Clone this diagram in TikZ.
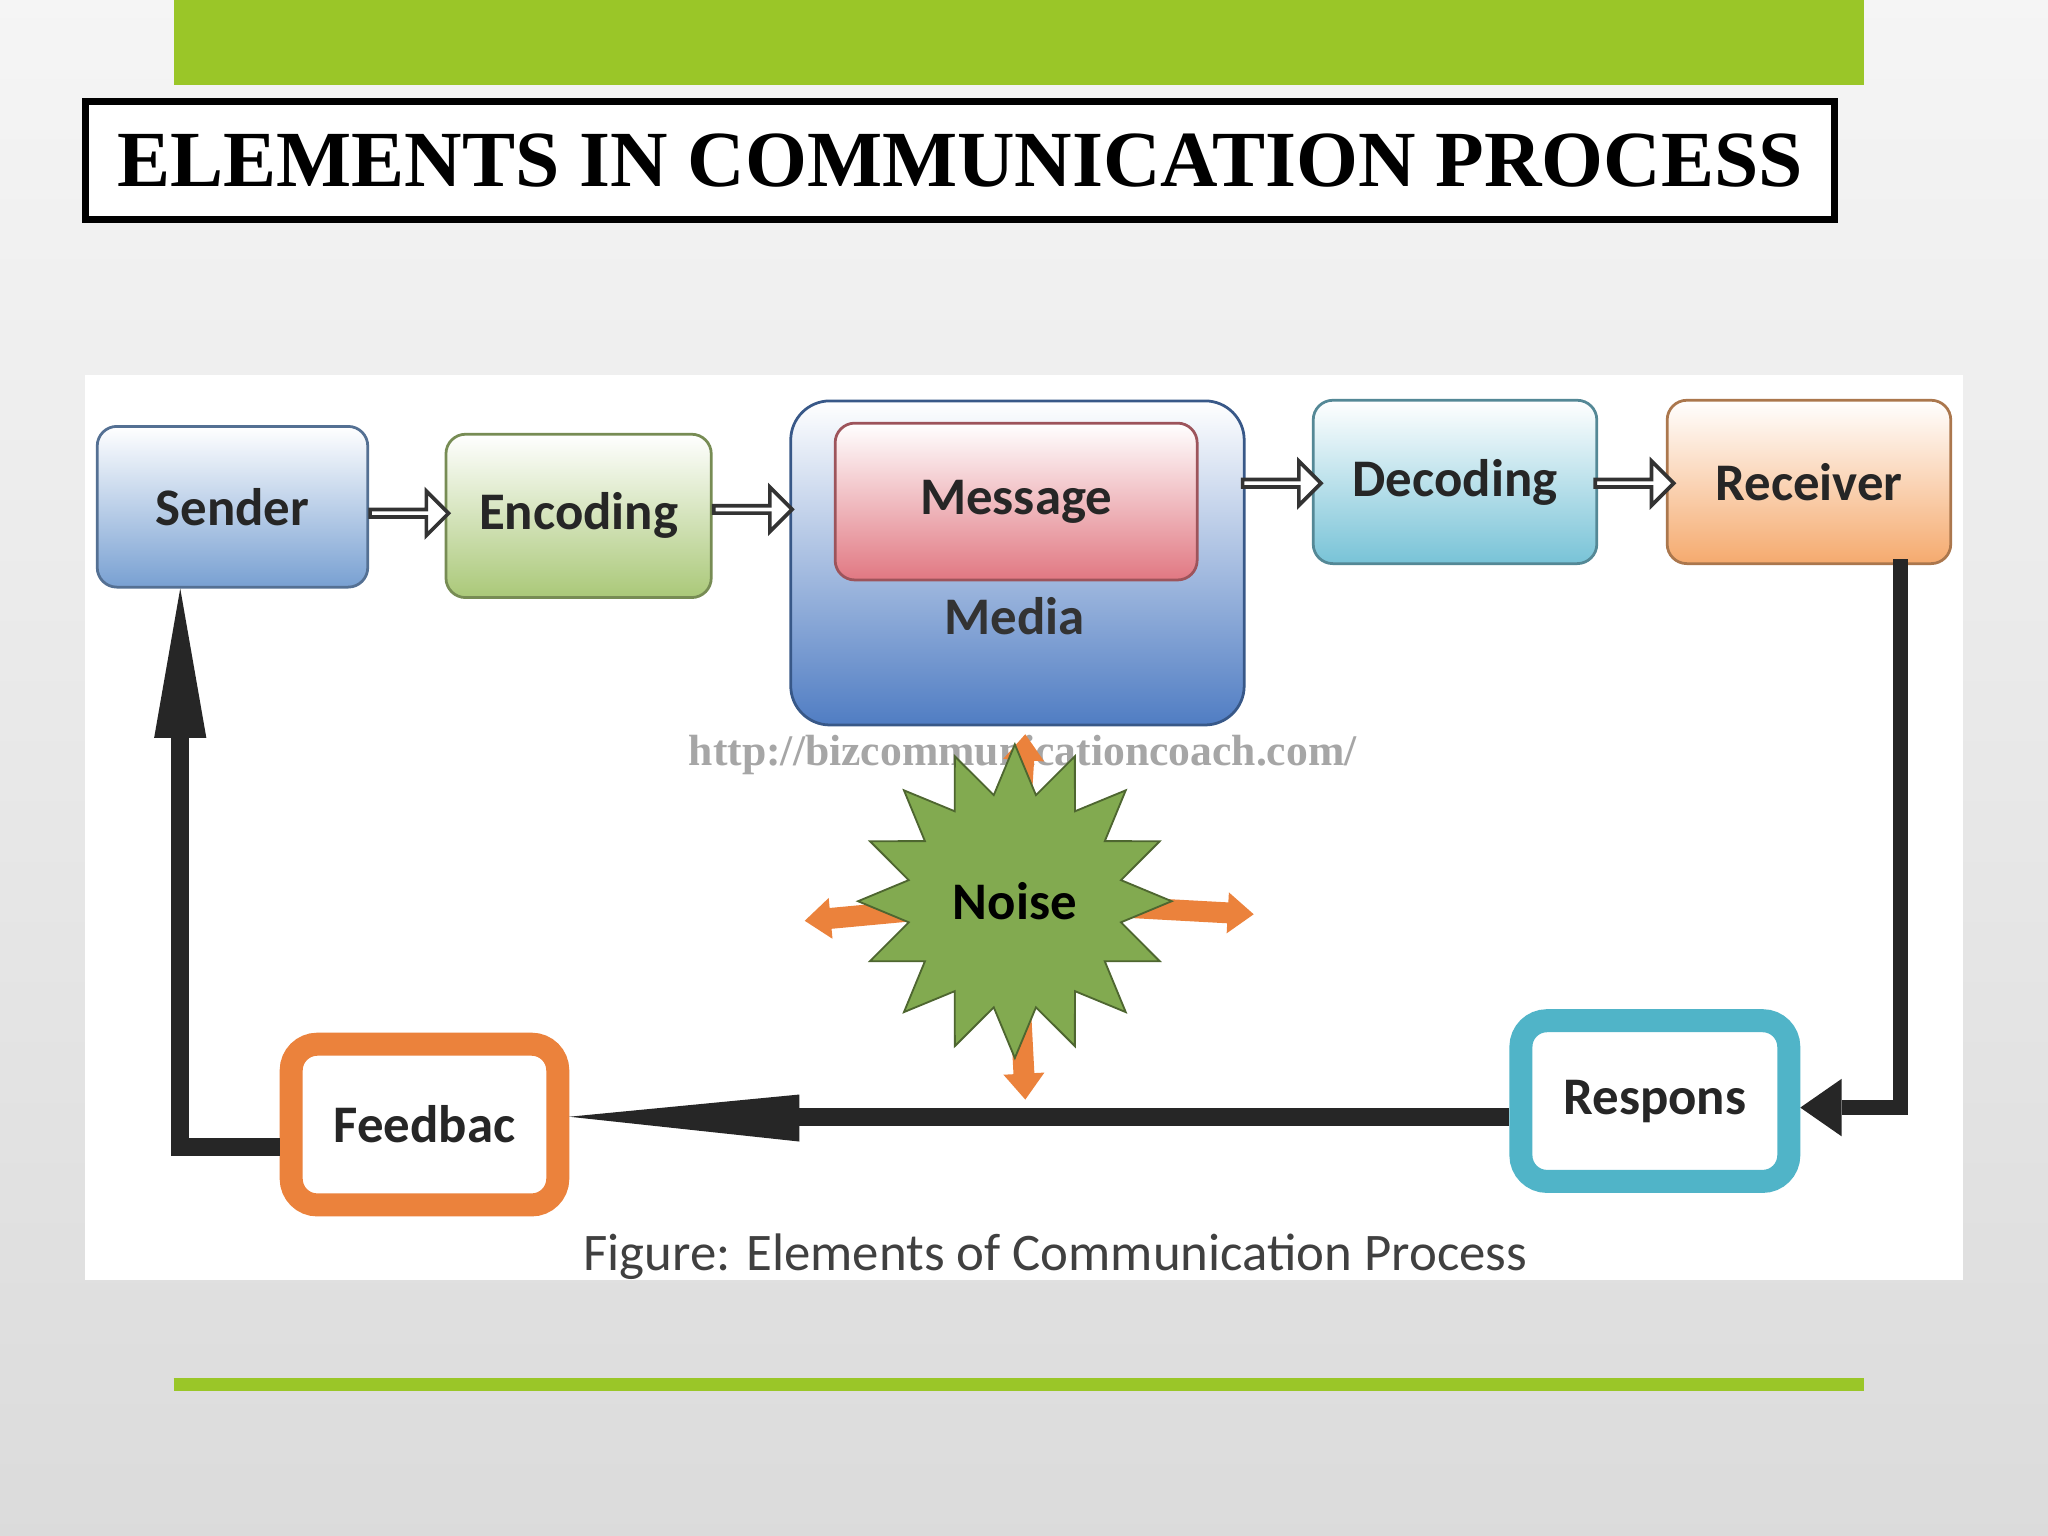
\documentclass[tikz,border=0pt]{standalone}
\usepackage{fontspec}
\setmainfont{Liberation Serif}
\newfontfamily\cfont{Carlito}
\usetikzlibrary{shapes.geometric,shapes.arrows,arrows.meta,positioning}
\definecolor{lgreen}{RGB}{154,198,40}
\definecolor{cSend}{RGB}{120,160,210}
\definecolor{cEnc}{RGB}{170,200,120}
\definecolor{cMed}{RGB}{80,125,195}
\definecolor{cMsg}{RGB}{225,120,130}
\definecolor{cDec}{RGB}{120,195,215}
\definecolor{cRec}{RGB}{245,170,110}
\definecolor{cNoise}{RGB}{130,170,80}
\definecolor{orng}{RGB}{235,130,60}
\definecolor{teal2}{RGB}{80,180,200}
\tikzset{
  elbox/.style={rounded corners=0.15cm, draw=#1!70!black, line width=0.6pt, top color=white, bottom color=#1, middle color=#1!50!white, font=\cfont\bfseries\fontsize{11.5}{14}\selectfont, text=black!85},
  harrow/.style={single arrow, draw=black!80, fill=white, minimum height=0.6cm, minimum width=0.34cm, single arrow head extend=0.07cm, inner sep=0pt, line width=0.8pt},
  bigline/.style={line width=3.4pt, black!85},
  dbox/.style={rounded corners=0.2cm, draw=#1, line width=5pt, fill=white, font=\cfont\bfseries\fontsize{11.5}{14}\selectfont, text=black!85},
  noisearrow/.style={line width=0.16cm, orng, -{Triangle[length=0.2cm,width=0.3cm]}}
}
\begin{document}
\begin{tikzpicture}[x=0.01cm,y=-0.01cm]
\useasboundingbox (0,0) rectangle (1568,1176);
\fill[top color=black!4, bottom color=black!14] (0,0) rectangle (1568,1176);
\fill[lgreen] (133,0) rectangle (1427,65);
\node[draw=black, line width=1.5pt, fill=white, minimum width=13.38cm, minimum height=0.9cm, inner sep=0pt] (title) at (735,123) {\resizebox{12.9cm}{!}{\bfseries ELEMENTS IN COMMUNICATION PROCESS}};
\fill[white] (65,287) rectangle (1503,980);
% boxes
\node[elbox=cSend, minimum width=2.07cm, minimum height=1.23cm] (sender) at (178,388) {Sender};
\node[elbox=cEnc, minimum width=2.03cm, minimum height=1.25cm] (enc) at (443,395) {Encoding};
\node[elbox=cMed, minimum width=3.47cm, minimum height=2.48cm, rounded corners=0.3cm] (media) at (779,431) {};
\node[elbox=cMsg, minimum width=2.77cm, minimum height=1.2cm] (msg) at (778,384) {Message};
\node[font=\cfont\bfseries\fontsize{11.5}{14}\selectfont, text=black!80] (medlab) at (777,472) {Media};
\node[elbox=cDec, minimum width=2.17cm, minimum height=1.25cm] (dec) at (1114,369) {Decoding};
\node[elbox=cRec, minimum width=2.17cm, minimum height=1.25cm] (rec) at (1385,369) {Receiver};
\node[harrow] (a1) at (312,393) {};
\node[harrow] (a2) at (575,390) {};
\node[harrow] (a3) at (980,370) {};
\node[harrow] (a4) at (1250,370) {};
% url
\node[font=\bfseries\fontsize{9.5}{12}\selectfont, text=black!35] (url) at (783,578) {http://bizcommunicationcoach.com/};
% noise
\coordinate (nc) at (777,690);
\draw[noisearrow] (nc) -- (785,562);
\draw[noisearrow] (nc) -- (785,842);
\draw[noisearrow] (nc) -- (616,705);
\draw[noisearrow] (nc) -- (960,700);
\node[star, star points=16, star point ratio=1.45, minimum size=2.4cm, draw=cNoise!60!black, fill=cNoise, inner sep=0pt, font=\cfont\bfseries\fontsize{11.5}{14}\selectfont] (noise) at (nc) {Noise};
% lower boxes
\node[dbox=teal2, minimum width=2.05cm, minimum height=1.23cm] (resp) at (1267,843) {Respons};
\node[dbox=orng, minimum width=2.04cm, minimum height=1.23cm] (feed) at (325,861) {Feedbac};
% connectors
\coordinate (r1) at (1455,428);
\coordinate (r2) at (1455,848);
\coordinate (rh) at (1410,848);
\draw[bigline] (r1) -- (r2) -- (rh);
\fill[black!85] (resp.east |- r2) -- (rh |- 0,826) -- (rh |- 0,870) -- cycle;
\coordinate (fh) at (612,855);
\draw[line width=4pt, black!85] (resp.west |- fh) -- (fh);
\fill[black!85] (feed.east |- fh) -- (612,838) -- (612,874) -- cycle;
\coordinate (f1) at (138,878);
\coordinate (sh) at (138,565);
\draw[line width=4pt, black!85] (feed.west |- f1) -- (f1) -- (sh);
\fill[black!85] (sender.south -| sh) -- (158,565) -- (118,565) -- cycle;
% caption
\node[font=\cfont\fontsize{11.5}{14}\selectfont, text=black!75] (cap) at (808,962) {Figure: Elements of Communication Process};
\draw[lgreen, line width=3pt] (133,1060) -- (1427,1060);
\end{tikzpicture}
\end{document}
